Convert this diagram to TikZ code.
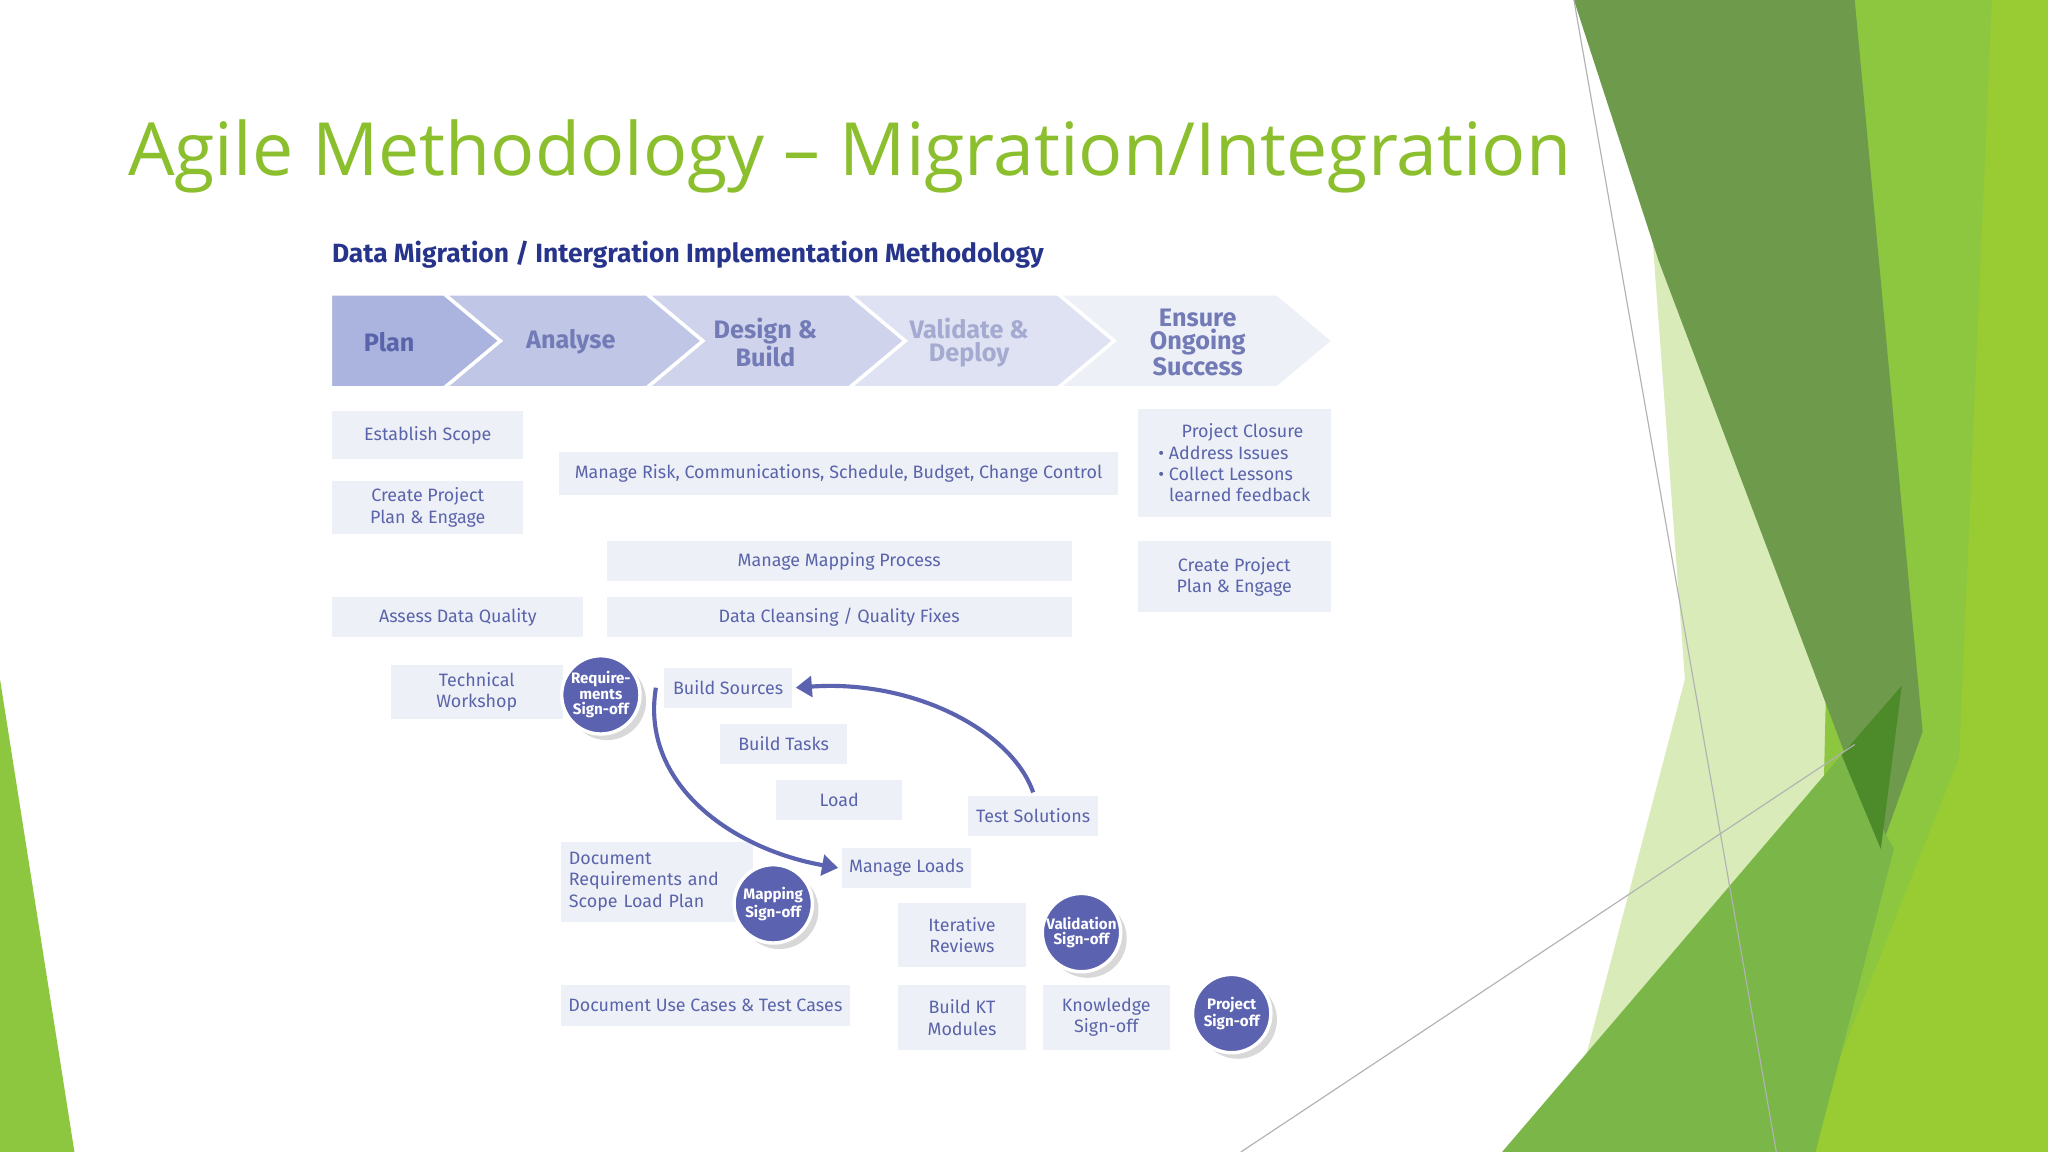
\documentclass[tikz,border=0pt]{standalone}
\usepackage{fontspec}
\setmainfont{Fira Sans}
\newfontfamily\titlefont{Open Sans}
\usetikzlibrary{shadows,arrows.meta}
\definecolor{tg}{HTML}{8CBF2E}
\definecolor{navy}{HTML}{27348B}
\definecolor{bt}{HTML}{5A64AA}
\definecolor{bf}{HTML}{EEF0F8}
\definecolor{cf}{HTML}{5B63B0}
\definecolor{pale}{HTML}{D9EBB8}
\tikzset{
 bx/.style={draw=white,line width=1.5pt,fill=bf,text=bt,font=\fontsize{7.8}{9.3}\selectfont,align=center,inner sep=1pt,drop shadow={opacity=0.2,shadow xshift=0.5pt,shadow yshift=-0.5pt}},
 cir/.style={circle,draw=white,line width=1.5pt,fill=cf,text=white,minimum size=1.2cm,inner sep=0pt,align=center,font=\fontsize{6.6}{6.8}\selectfont\bfseries,drop shadow={opacity=0.3}},
 chv/.style={draw=white,line width=1.5pt},
 ctxt/.style={font=\fontsize{11}{10}\selectfont\bfseries,align=center},
 arr/.style={draw=cf,line width=1.8pt,-{Triangle[length=7pt,width=9pt]}}
}
\begin{document}
\begin{tikzpicture}[x=0.02cm,y=-0.02cm]
\useasboundingbox (0,0) rectangle (1568,882);
\fill[white] (0,0) rectangle (1568,882);
% green decoration
\fill[pale] (1265,180) -- (1445,640) -- (1195,882) -- (1290,520) -- cycle;
\fill[color={rgb,255:red,141;green,198;blue,63}] (1410,0) -- (1568,0) -- (1568,882) -- (1390,882) -- cycle;
\fill[color={rgb,255:red,110;green,154;blue,76}] (1205,0) -- (1420,0) -- (1472,560) -- (1440,650) -- (1270,200) -- cycle;
\fill[color={rgb,255:red,153;green,204;blue,51}] (1525,0) -- (1568,0) -- (1568,882) -- (1380,882) -- (1500,580) -- cycle;
\fill[color={rgb,255:red,122;green,182;blue,72}] (1150,882) -- (1410,578) -- (1450,650) -- (1390,882) -- cycle;
\fill[color={rgb,255:red,76;green,138;blue,42}] (1410,578) -- (1456,525) -- (1440,650) -- cycle;
\fill[color={rgb,255:red,141;green,198;blue,63}] (0,520) -- (57,882) -- (0,882) -- cycle;
\draw[gray!60,line width=0.5pt] (1205,0) -- (1360,882);
\draw[gray!60,line width=0.5pt] (950,882) -- (1420,570);
% titles
\node[anchor=west,text=tg,font=\titlefont\fontsize{32}{34}\selectfont] (title) at (92,120) {Agile Methodology – Migration/Integration};
\node[anchor=west,text=navy,font=\fontsize{11.5}{12}\selectfont\bfseries] (sub) at (248,195) {Data Migration / Intergration Implementation Methodology};
% chevrons
\filldraw[chv,fill={rgb,255:red,238;green,240;blue,248}] (810,225) -- (978,225) -- (1021,261) -- (978,297) -- (810,297) -- (853,261) -- cycle;
\filldraw[chv,fill={rgb,255:red,223;green,226;blue,242}] (650,225) -- (810,225) -- (853,261) -- (810,297) -- (650,297) -- (693,261) -- cycle;
\filldraw[chv,fill={rgb,255:red,207;green,212;blue,236}] (495,225) -- (650,225) -- (693,261) -- (650,297) -- (495,297) -- (538,261) -- cycle;
\filldraw[chv,fill={rgb,255:red,191;green,198;blue,230}] (340,225) -- (495,225) -- (538,261) -- (495,297) -- (340,297) -- (383,261) -- cycle;
\filldraw[chv,fill={rgb,255:red,170;green,180;blue,222}] (253,225) -- (340,225) -- (383,261) -- (340,297) -- (253,297) -- cycle;
\node[ctxt,text=bt] (c1) at (298,262) {Plan};
\node[ctxt,text=bt!85] (c2) at (437,262) {Analyse};
\node[ctxt,text=bt!85] (c3) at (586,262) {Design \&\\Build};
\node[ctxt,text=bt!55] (c4) at (742,262) {Validate \&\\Deploy};
\node[ctxt,text=bt!85] (c5) at (917,262) {Ensure\\Ongoing\\Success};
% boxes
\node[bx,minimum width=2.98cm,minimum height=0.8cm] (scope) at (327.5,333) {Establish Scope};
\node[bx,minimum width=2.98cm,minimum height=0.86cm] (plan1) at (327.5,388.5) {Create Project\\Plan \& Engage};
\node[bx,minimum width=8.6cm,minimum height=0.7cm] (risk) at (642,362.5) {Manage Risk, Communications, Schedule, Budget, Change Control};
\node[bx,minimum width=3.0cm,minimum height=1.7cm,align=left] (closure) at (945,354.5) {\hspace*{1.3em}Project Closure\\• Address Issues\\• Collect Lessons\\\hspace*{0.6em}learned feedback};
\node[bx,minimum width=7.18cm,minimum height=0.66cm] (mapping) at (642.5,429.5) {Manage Mapping Process};
\node[bx,minimum width=3.0cm,minimum height=1.14cm] (plan2) at (945,441.5) {Create Project\\Plan \& Engage};
\node[bx,minimum width=3.9cm,minimum height=0.66cm] (assess) at (350.5,472.5) {Assess Data Quality};
\node[bx,minimum width=7.18cm,minimum height=0.66cm] (cleansing) at (642.5,472.5) {Data Cleansing / Quality Fixes};
\node[bx,minimum width=2.68cm,minimum height=0.88cm] (workshop) at (365,530) {Technical\\Workshop};
\node[cir] (req) at (460,532) {Require-\\ments\\Sign-off};
\node[bx,minimum width=2.02cm,minimum height=0.66cm] (sources) at (557.5,526.5) {Build Sources};
\node[bx,minimum width=2.0cm,minimum height=0.66cm] (tasks) at (600,569.5) {Build Tasks};
\node[bx,minimum width=1.98cm,minimum height=0.66cm] (load) at (642.5,612.5) {Load};
\node[bx,minimum width=2.04cm,minimum height=0.66cm] (tests) at (791,624.5) {Test Solutions};
\node[bx,minimum width=2.04cm,minimum height=0.66cm] (loads) at (694,664.5) {Manage Loads};
\node[bx,minimum width=3.0cm,minimum height=1.28cm,align=left,text width=2.7cm] (docreq) at (503,675) {Document\\Requirements and\\Scope Load Plan};
\node[cir] (mapso) at (592,692) {Mapping\\Sign-off};
\node[bx,minimum width=2.02cm,minimum height=1.04cm] (iter) at (736.5,716) {Iterative\\Reviews};
\node[cir] (valso) at (828,714) {Validation\\Sign-off};
\node[bx,minimum width=4.48cm,minimum height=0.68cm] (usecases) at (540,770) {Document Use Cases \& Test Cases};
\node[bx,minimum width=2.02cm,minimum height=1.04cm] (kt) at (736.5,779) {Build KT\\Modules};
\node[bx,minimum width=2.0cm,minimum height=1.04cm] (know) at (847,779) {Knowledge\\Sign-off};
\node[cir] (projso) at (943,776) {Project\\Sign-off};
% arrows
\draw[arr] (tests.north) .. controls (775,560) and (700,520) .. (sources.east);
\draw[arr] ([xshift=-2pt]sources.west) .. controls (490,600) and (560,650) .. (loads.west);
\end{tikzpicture}
\end{document}
